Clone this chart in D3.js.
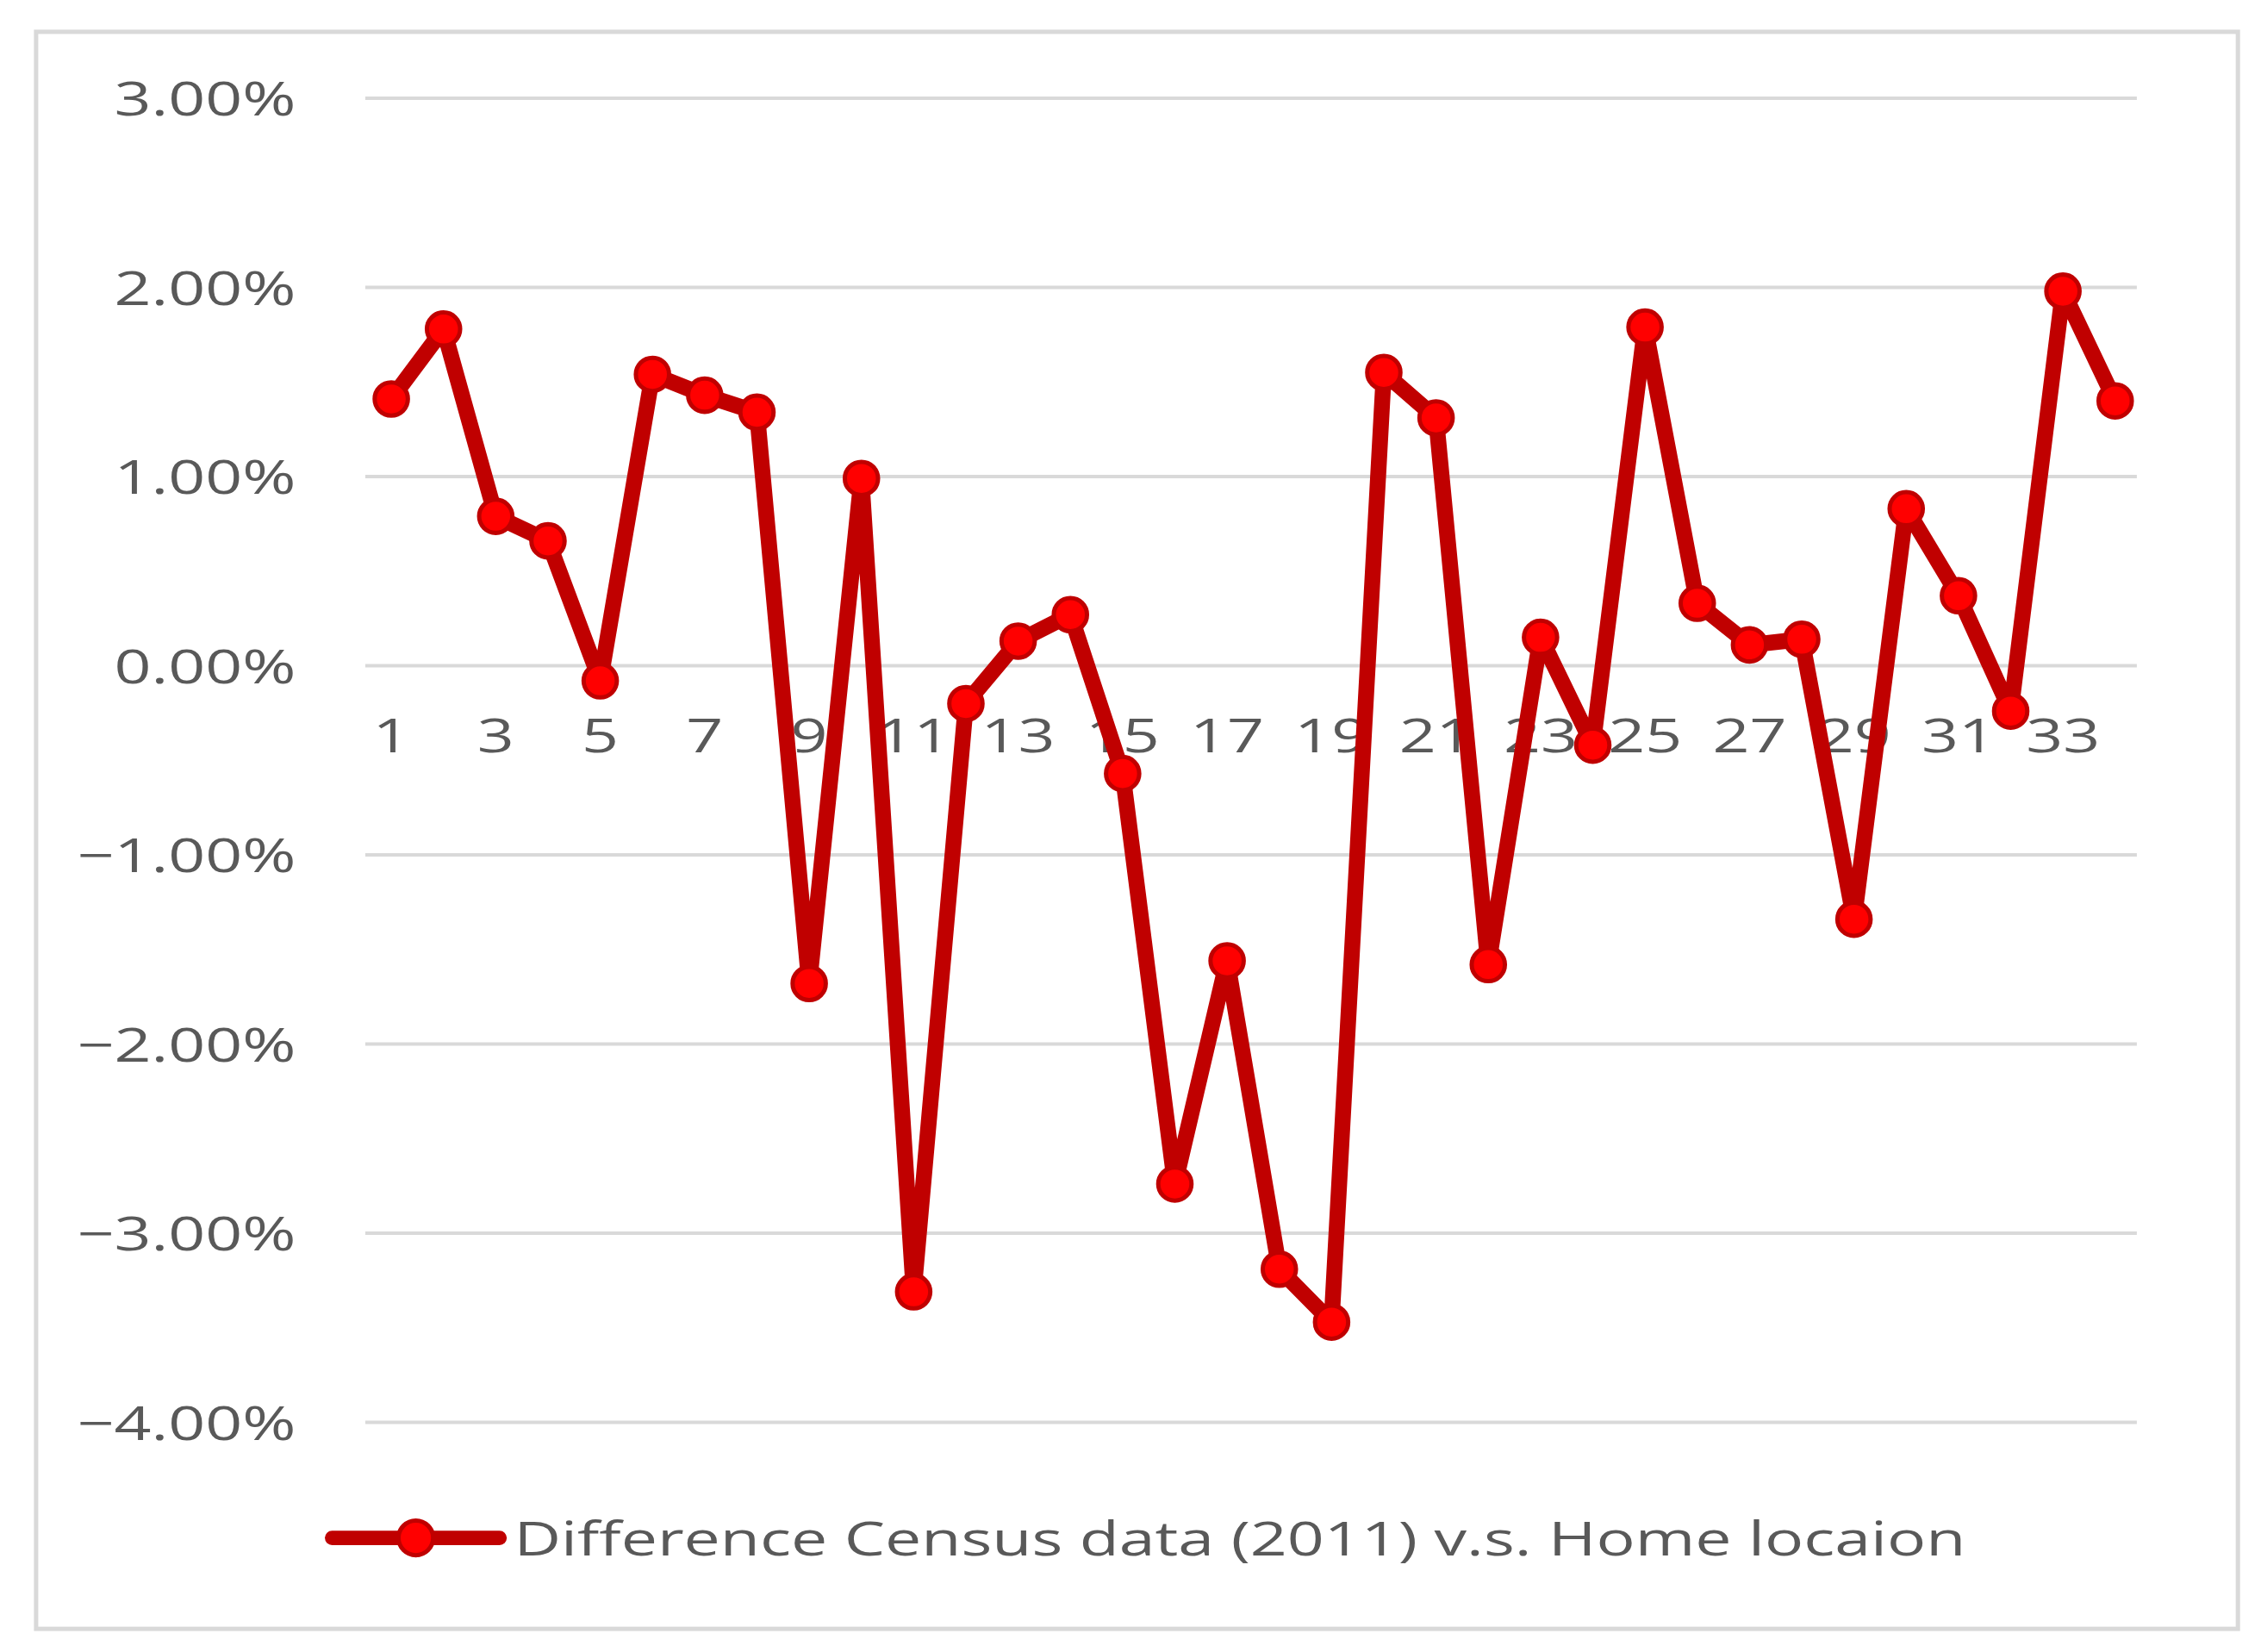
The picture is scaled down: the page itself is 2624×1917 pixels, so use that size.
<!DOCTYPE html>
<html>
<head>
<meta charset="utf-8">
<script src="https://cdn.jsdelivr.net/npm/d3@7"></script>
<style>
  body { margin: 0; background: #fff; }
  text { font-family: "Open Sans", "Liberation Sans", sans-serif; fill: #595959; }
</style>
</head>
<body>
<div id="chart"></div>
<script>
// data
var categories = d3.range(1, 35);
var values = [1.41, 1.78, 0.79, 0.66, -0.08, 1.54, 1.43, 1.34, -1.68, 0.99,
              -3.31, -0.20, 0.13, 0.27, -0.57, -2.74, -1.56, -3.19, -3.47, 1.55,
              1.31, -1.58, 0.15, -0.42, 1.79, 0.33, 0.11, 0.14, -1.34, 0.83,
              0.37, -0.24, 1.98, 1.40];
var yTicks = [3, 2, 1, 0, -1, -2, -3, -4];
var seriesName = "Difference Census data (2011) v.s. Home locaion";

// layout in a 1566x1144 frame, scaled up to the window
var W = 1566, H = 1144;
var SX = 1.36; // text in the picture is stretched sideways
var svg = d3.select("#chart").append("svg")
    .attr("width", 2624).attr("height", 1917)
    .attr("viewBox", "0 0 " + W + " " + H);

svg.append("rect").attr("x", 25).attr("y", 22).attr("width", 1525).attr("height", 1106)
    .attr("fill", "#fff").attr("stroke", "#d9d9d9").attr("stroke-width", 3);

var x = d3.scaleLinear().domain([1, 34]).range([271, 1465]);
var y = d3.scaleLinear().domain([-4, 3]).range([985, 68]);

// gridlines + y labels
svg.append("g").selectAll("line").data(yTicks).join("line")
    .attr("x1", 253).attr("x2", 1480)
    .attr("y1", d => y(d)).attr("y2", d => y(d))
    .attr("stroke", "#d9d9d9").attr("stroke-width", 2.5);

svg.append("g").selectAll("text").data(yTicks).join("text")
    .attr("transform", d => "translate(205," + (y(d) + 12) + ") scale(" + SX + ",1)")
    .attr("text-anchor", "end").attr("font-size", 33)
    .text(d => (d < 0 ? "\u2212" : "") + Math.abs(d).toFixed(2) + "%");

// x labels (every other category), drawn under the line
svg.append("g").selectAll("text").data(categories.filter(d => d % 2 === 1)).join("text")
    .attr("transform", d => "translate(" + x(d) + ",521) scale(" + SX + ",1)")
    .attr("text-anchor", "middle").attr("font-size", 33)
    .text(d => d);

var line = d3.line().x((d, i) => x(categories[i])).y(d => y(d));
svg.append("path").datum(values)
    .attr("d", line).attr("fill", "none")
    .attr("stroke", "#c00000").attr("stroke-width", 11).attr("stroke-linejoin", "round");

svg.append("g").selectAll("circle").data(values).join("circle")
    .attr("cx", (d, i) => x(categories[i])).attr("cy", d => y(d)).attr("r", 11.5)
    .attr("fill", "#ff0000").attr("stroke", "#c00000").attr("stroke-width", 3);

// legend
var lg = svg.append("g");
lg.append("line").attr("x1", 230).attr("x2", 346).attr("y1", 1065).attr("y2", 1065)
    .attr("stroke", "#c00000").attr("stroke-width", 10).attr("stroke-linecap", "round");
lg.append("circle").attr("cx", 288).attr("cy", 1065).attr("r", 12)
    .attr("fill", "#ff0000").attr("stroke", "#c00000").attr("stroke-width", 3);
lg.append("text").attr("transform", "translate(356,1077) scale(" + SX + ",1)")
    .attr("font-size", 33).text(seriesName);
</script>
</body>
</html>
